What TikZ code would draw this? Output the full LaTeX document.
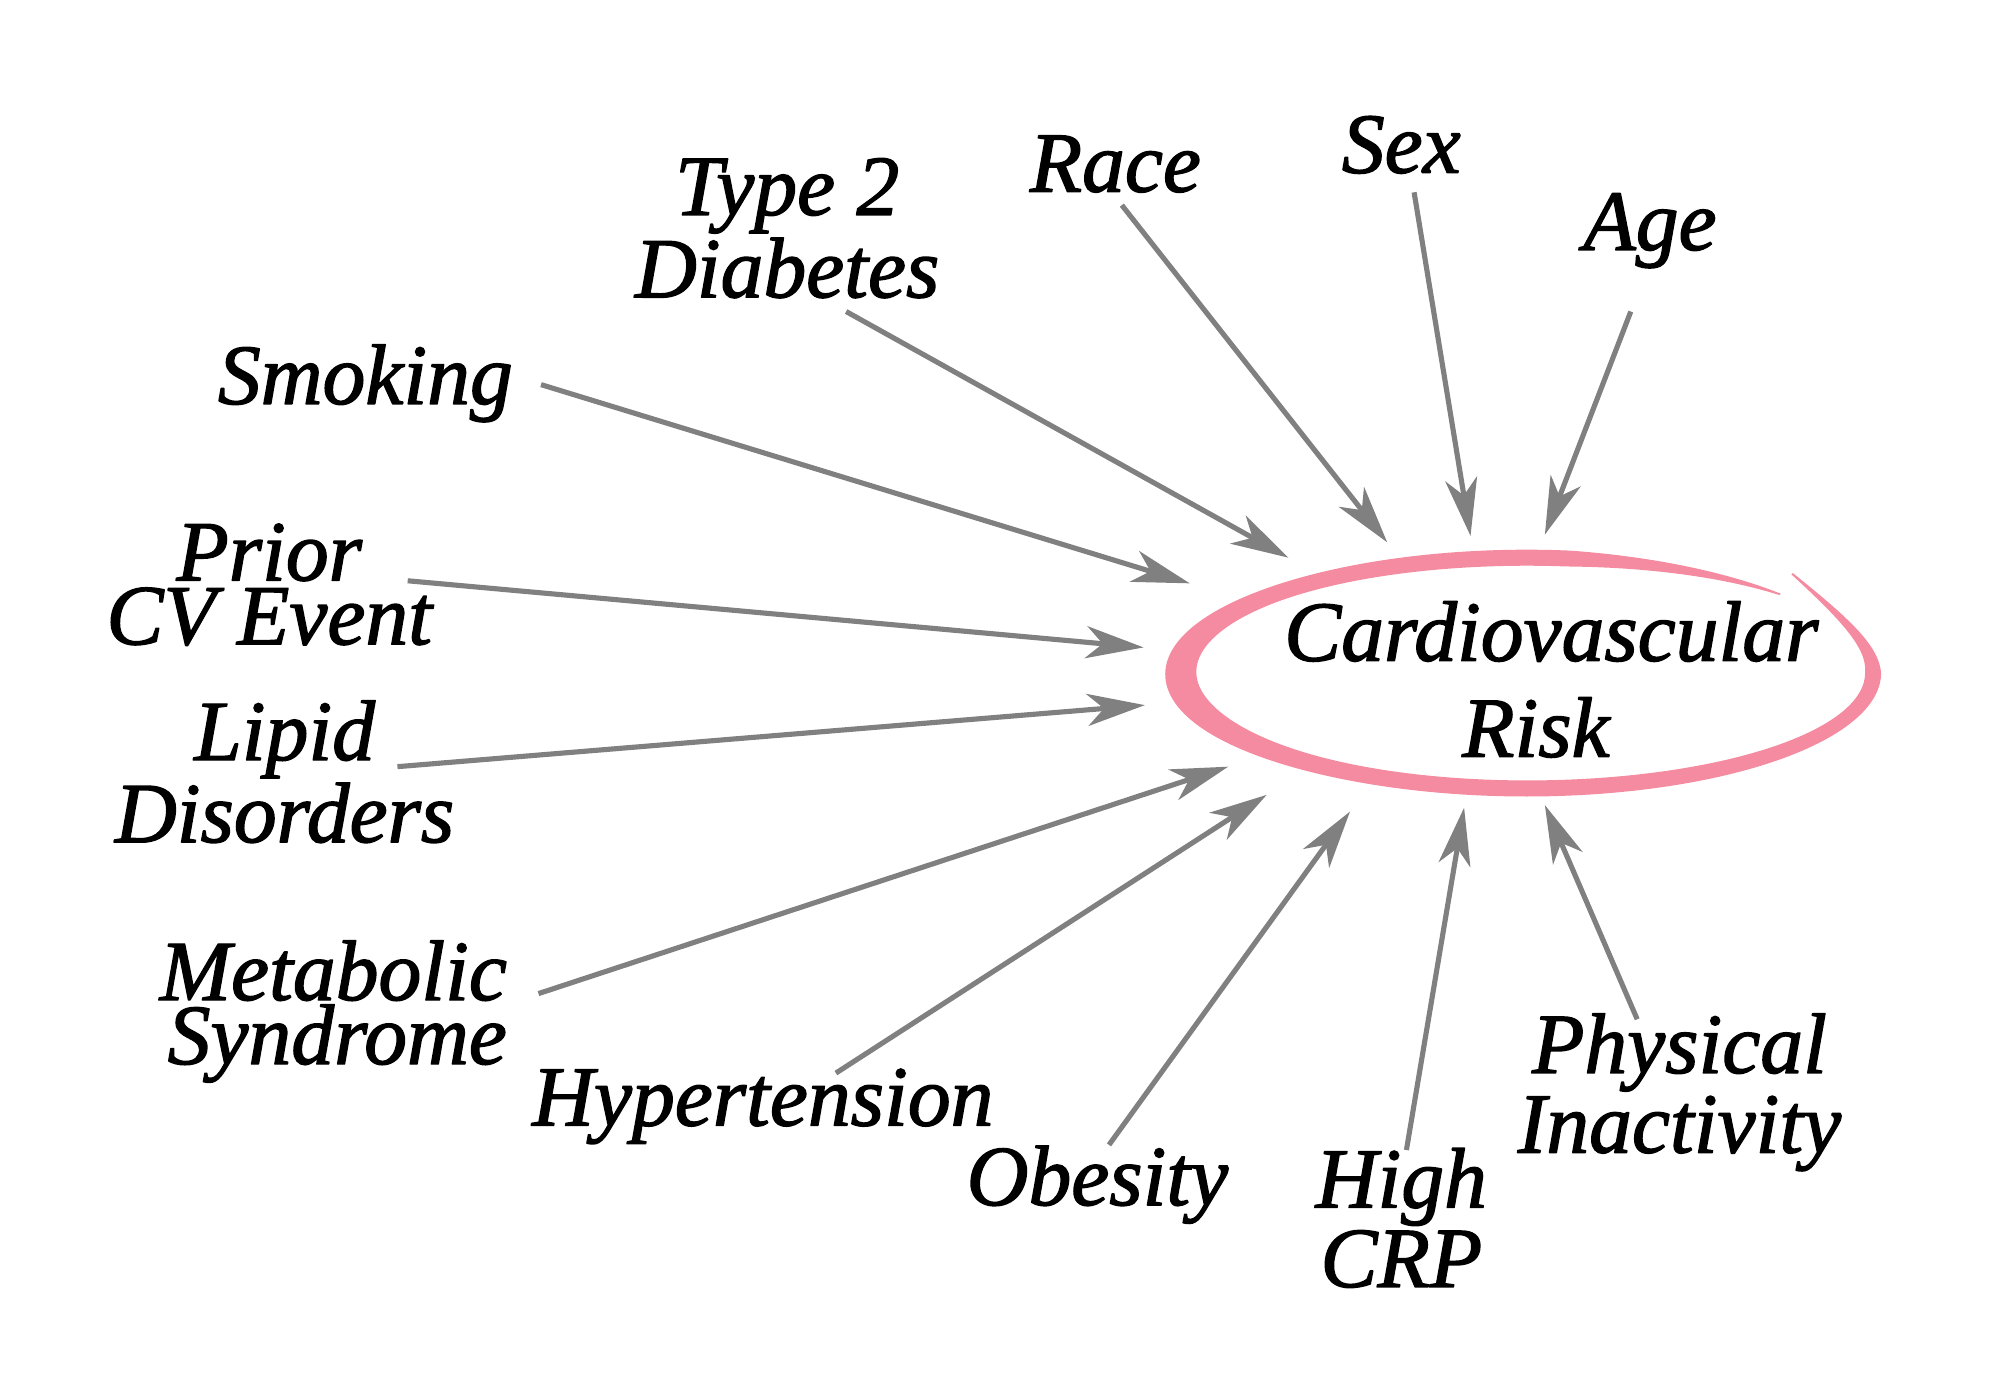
\documentclass[tikz,border=0pt]{standalone}
\usepackage{fontspec}
\setmainfont{Liberation Serif}[ItalicFeatures={FakeBold=1.6}]
\usetikzlibrary{arrows.meta}
\definecolor{riskpink}{RGB}{245,139,160}
\definecolor{arrowgray}{RGB}{128,128,128}
\tikzset{
  factor/.style={font=\fontsize{19}{14.2}\selectfont\itshape, align=center, inner sep=0pt},
  push/.style={draw=arrowgray, line width=0.4mm, -{Stealth[length=4.5mm,width=2.5mm,inset=1.3mm]}},
}
\begin{document}
\begin{tikzpicture}[x=0.1mm, y=-0.1mm, line join=round,
    declare function={ringg(\t)=(\t-185)/35;
      ringw(\t)=1.5+11*min(1,(\t-43)/40)*min(1,(400-\t)/40)+12*exp(-min(9,ringg(\t)*ringg(\t)));
      ringf(\t)=max(0,(\t-360)/40);
      ringy(\t)=1+0.34*ringf(\t)*ringf(\t);}]
  \useasboundingbox (0,0) rectangle (1560,1090);
  % ring round the risk
  \fill[riskpink] plot[domain=43:400, samples=240]
      ({1191+(270+ringw(\x)/2)*cos(\x)}, {525-(90*ringy(\x)+ringw(\x)/2)*sin(\x)})
    -- plot[domain=400:43, samples=240]
      ({1191+(270-ringw(\x)/2)*cos(\x)}, {525-(90*ringy(\x)-ringw(\x)/2)*sin(\x)}) -- cycle;
  \node[factor, font=\fontsize{19}{21.3}\selectfont\itshape] (risk) at (1210,530) {Cardiovascular\\Risk\hspace*{2.4mm}};
  % factors
  \node[factor] (diabetes) at (614,178) {Type 2\\Diabetes};
  \node[factor] (race) at (870,128) {Race};
  \node[factor] (sex) at (1093,113) {Sex};
  \node[factor] (age) at (1287,180) {Age};
  \node[factor] (smoking) at (285,299) {Smoking};
  \node[factor] (prior) at (210,456) {Prior\\CV Event};
  \node[factor] (lipid) at (222,602) {Lipid\\Disorders};
  \node[factor, align=right] (metabolic) at (260,789) {Metabolic\\Syndrome};
  \node[factor] (hyper) at (595,863) {Hypertension};
  \node[factor] (obesity) at (856,924) {Obesity};
  \node[factor] (crp) at (1093,950) {High\\CRP};
  \node[factor] (inactivity) at (1310,852) {Physical\\Inactivity};
  % arrow ends
  \coordinate (smoking-t) at (422,300);   \coordinate (smoking-h) at (928,455);
  \coordinate (diabetes-t) at (660,243);  \coordinate (diabetes-h) at (1005,435);
  \coordinate (race-t) at (875,160);      \coordinate (race-h) at (1082,423);
  \coordinate (sex-t) at (1103,150);      \coordinate (sex-h) at (1147,418);
  \coordinate (age-t) at (1272,243);      \coordinate (age-h) at (1205,417);
  \coordinate (prior-t) at (318,453);     \coordinate (prior-h) at (892,505);
  \coordinate (lipid-t) at (310,598);     \coordinate (lipid-h) at (893,550);
  \coordinate (metabolic-t) at (420,775); \coordinate (metabolic-h) at (958,598);
  \coordinate (hyper-t) at (652,837);     \coordinate (hyper-h) at (988,620);
  \coordinate (obesity-t) at (865,893);   \coordinate (obesity-h) at (1053,633);
  \coordinate (crp-t) at (1097,897);      \coordinate (crp-h) at (1142,630);
  \coordinate (inactivity-t) at (1277,795); \coordinate (inactivity-h) at (1205,628);
  \draw[push] (smoking-t) -- (smoking-h);
  \draw[push] (diabetes-t) -- (diabetes-h);
  \draw[push] (race-t) -- (race-h);
  \draw[push] (sex-t) -- (sex-h);
  \draw[push] (age-t) -- (age-h);
  \draw[push] (prior-t) -- (prior-h);
  \draw[push] (lipid-t) -- (lipid-h);
  \draw[push] (metabolic-t) -- (metabolic-h);
  \draw[push] (hyper-t) -- (hyper-h);
  \draw[push] (obesity-t) -- (obesity-h);
  \draw[push] (crp-t) -- (crp-h);
  \draw[push] (inactivity-t) -- (inactivity-h);
\end{tikzpicture}
\end{document}
